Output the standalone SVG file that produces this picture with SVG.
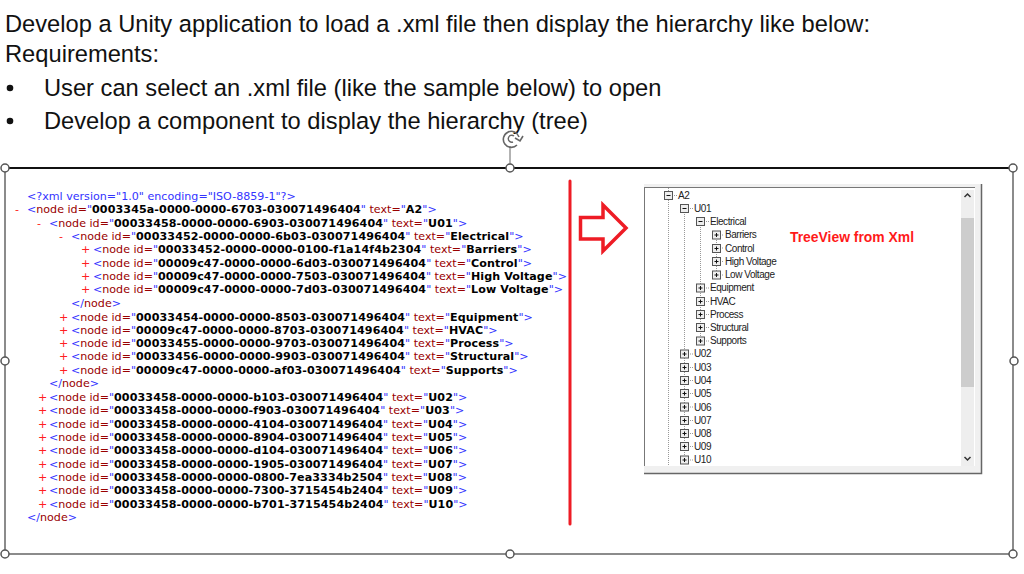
<svg xmlns="http://www.w3.org/2000/svg" width="1024" height="574" viewBox="0 0 1024 574">
<style>
.h{font:23.7px "Liberation Sans",Arial,sans-serif;fill:#111}
.x{font:11.1px "DejaVu Sans",Verdana,sans-serif;fill:#3333ff}
.x .r{fill:#990000}.x .k{fill:#000;font-weight:bold;letter-spacing:.1px}
.s{font:bold 13.9px "Liberation Sans",Arial,sans-serif;fill:#ff1a1a}
.t{font:10px "Liberation Sans",Arial,sans-serif;fill:#222;letter-spacing:-.45px}
.f{fill:none;stroke:#666;stroke-width:1.5}
.hd{fill:#fff;stroke:#555;stroke-width:1.5}
.dot{stroke:#999;stroke-width:1;stroke-dasharray:1 1;fill:none}
.box{fill:#eee;stroke:#555;stroke-width:1}
.pm{stroke:#111;stroke-width:1;fill:none}
</style>
<defs>
<g id="plus"><rect class="box" x="-3.5" y="-3.5" width="8" height="8"/><path class="pm" d="M-1.5 .5H2.5M.5 -1.5V2.5"/></g>
<g id="minus"><rect class="box" x="-3.5" y="-3.5" width="8" height="8"/><path class="pm" d="M-1.5 .5H2.5"/></g>
</defs>
<g id="heading">
<text class="h" x="5" y="32">Develop a Unity application to load a .xml file then display the hierarchy like below:</text>
<text class="h" x="5" y="62">Requirements:</text>
<circle cx="10" cy="88" r="3.3" fill="#111"/>
<text class="h" x="44" y="96">User can select an .xml file (like the sample below) to open</text>
<circle cx="10" cy="121" r="3.3" fill="#111"/>
<text class="h" x="44" y="129">Develop a component to display the hierarchy (tree)</text>
</g>
<g id="selection-frame">
<path class="f" d="M5 168V554H1013V168"/>
<path d="M5 168H1013" stroke="#111" stroke-width="2.2" fill="none"/>
<path d="M510 168V146" stroke="#666" stroke-width="1"/>
<path d="M517 145A8 8 0 1 1 519 137M515 138L520 141L523 136" fill="none" stroke="#666" stroke-width="1.6"/>
<path d="M513 142A3.500 3.500 0 1 1 514 136" fill="none" stroke="#666" stroke-width="1.4"/>
<circle class="hd" cx="5" cy="168" r="4"/><circle class="hd" cx="510" cy="168" r="4"/><circle class="hd" cx="1013" cy="168" r="4"/>
<circle class="hd" cx="5" cy="361" r="4"/><circle class="hd" cx="1014" cy="361" r="4"/>
<circle class="hd" cx="5" cy="554" r="4"/><circle class="hd" cx="510" cy="554" r="4"/><circle class="hd" cx="1013" cy="554" r="4"/>
</g>
<g id="xml-listing">
<text class="x" x="27" y="200">&lt;?xml version="1.0" encoding="ISO-8859-1"?&gt;</text>
<text class="x" x="15" y="213"><tspan fill="#ff2020">-</tspan></text>
<text class="x" x="27" y="213">&lt;<tspan class="r">node id=</tspan>"<tspan class="k">0003345a-0000-0000-6703-030071496404</tspan>" <tspan class="r">text=</tspan>"<tspan class="k">A2</tspan>"&gt;</text>
<text class="x" x="37" y="226.500"><tspan fill="#ff2020">-</tspan></text>
<text class="x" x="49" y="226.500">&lt;<tspan class="r">node id=</tspan>"<tspan class="k">00033458-0000-0000-6903-030071496404</tspan>" <tspan class="r">text=</tspan>"<tspan class="k">U01</tspan>"&gt;</text>
<text class="x" x="59" y="240"><tspan fill="#ff2020">-</tspan></text>
<text class="x" x="71" y="240">&lt;<tspan class="r">node id=</tspan>"<tspan class="k">00033452-0000-0000-6b03-030071496404</tspan>" <tspan class="r">text=</tspan>"<tspan class="k">Electrical</tspan>"&gt;</text>
<text class="x" x="81" y="253"><tspan fill="#ff2020">+</tspan></text>
<text class="x" x="93" y="253">&lt;<tspan class="r">node id=</tspan>"<tspan class="k">00033452-0000-0000-0100-f1a14f4b2304</tspan>" <tspan class="r">text=</tspan>"<tspan class="k">Barriers</tspan>"&gt;</text>
<text class="x" x="81" y="266.500"><tspan fill="#ff2020">+</tspan></text>
<text class="x" x="93" y="266.500">&lt;<tspan class="r">node id=</tspan>"<tspan class="k">00009c47-0000-0000-6d03-030071496404</tspan>" <tspan class="r">text=</tspan>"<tspan class="k">Control</tspan>"&gt;</text>
<text class="x" x="81" y="280"><tspan fill="#ff2020">+</tspan></text>
<text class="x" x="93" y="280">&lt;<tspan class="r">node id=</tspan>"<tspan class="k">00009c47-0000-0000-7503-030071496404</tspan>" <tspan class="r">text=</tspan>"<tspan class="k">High Voltage</tspan>"&gt;</text>
<text class="x" x="81" y="293"><tspan fill="#ff2020">+</tspan></text>
<text class="x" x="93" y="293">&lt;<tspan class="r">node id=</tspan>"<tspan class="k">00009c47-0000-0000-7d03-030071496404</tspan>" <tspan class="r">text=</tspan>"<tspan class="k">Low Voltage</tspan>"&gt;</text>
<text class="x" x="71" y="307">&lt;/<tspan class="r">node</tspan>&gt;</text>
<text class="x" x="59" y="320.500"><tspan fill="#ff2020">+</tspan></text>
<text class="x" x="71" y="320.500">&lt;<tspan class="r">node id=</tspan>"<tspan class="k">00033454-0000-0000-8503-030071496404</tspan>" <tspan class="r">text=</tspan>"<tspan class="k">Equipment</tspan>"&gt;</text>
<text class="x" x="59" y="333.500"><tspan fill="#ff2020">+</tspan></text>
<text class="x" x="71" y="333.500">&lt;<tspan class="r">node id=</tspan>"<tspan class="k">00009c47-0000-0000-8703-030071496404</tspan>" <tspan class="r">text=</tspan>"<tspan class="k">HVAC</tspan>"&gt;</text>
<text class="x" x="59" y="347"><tspan fill="#ff2020">+</tspan></text>
<text class="x" x="71" y="347">&lt;<tspan class="r">node id=</tspan>"<tspan class="k">00033455-0000-0000-9703-030071496404</tspan>" <tspan class="r">text=</tspan>"<tspan class="k">Process</tspan>"&gt;</text>
<text class="x" x="59" y="360"><tspan fill="#ff2020">+</tspan></text>
<text class="x" x="71" y="360">&lt;<tspan class="r">node id=</tspan>"<tspan class="k">00033456-0000-0000-9903-030071496404</tspan>" <tspan class="r">text=</tspan>"<tspan class="k">Structural</tspan>"&gt;</text>
<text class="x" x="59" y="374"><tspan fill="#ff2020">+</tspan></text>
<text class="x" x="71" y="374">&lt;<tspan class="r">node id=</tspan>"<tspan class="k">00009c47-0000-0000-af03-030071496404</tspan>" <tspan class="r">text=</tspan>"<tspan class="k">Supports</tspan>"&gt;</text>
<text class="x" x="49" y="387">&lt;/<tspan class="r">node</tspan>&gt;</text>
<text class="x" x="38" y="401"><tspan fill="#ff2020">+</tspan></text>
<text class="x" x="49" y="401">&lt;<tspan class="r">node id=</tspan>"<tspan class="k">00033458-0000-0000-b103-030071496404</tspan>" <tspan class="r">text=</tspan>"<tspan class="k">U02</tspan>"&gt;</text>
<text class="x" x="38" y="414"><tspan fill="#ff2020">+</tspan></text>
<text class="x" x="49" y="414">&lt;<tspan class="r">node id=</tspan>"<tspan class="k">00033458-0000-0000-f903-030071496404</tspan>" <tspan class="r">text=</tspan>"<tspan class="k">U03</tspan>"&gt;</text>
<text class="x" x="38" y="427.500"><tspan fill="#ff2020">+</tspan></text>
<text class="x" x="49" y="427.500">&lt;<tspan class="r">node id=</tspan>"<tspan class="k">00033458-0000-0000-4104-030071496404</tspan>" <tspan class="r">text=</tspan>"<tspan class="k">U04</tspan>"&gt;</text>
<text class="x" x="38" y="441"><tspan fill="#ff2020">+</tspan></text>
<text class="x" x="49" y="441">&lt;<tspan class="r">node id=</tspan>"<tspan class="k">00033458-0000-0000-8904-030071496404</tspan>" <tspan class="r">text=</tspan>"<tspan class="k">U05</tspan>"&gt;</text>
<text class="x" x="38" y="454"><tspan fill="#ff2020">+</tspan></text>
<text class="x" x="49" y="454">&lt;<tspan class="r">node id=</tspan>"<tspan class="k">00033458-0000-0000-d104-030071496404</tspan>" <tspan class="r">text=</tspan>"<tspan class="k">U06</tspan>"&gt;</text>
<text class="x" x="38" y="467.500"><tspan fill="#ff2020">+</tspan></text>
<text class="x" x="49" y="467.500">&lt;<tspan class="r">node id=</tspan>"<tspan class="k">00033458-0000-0000-1905-030071496404</tspan>" <tspan class="r">text=</tspan>"<tspan class="k">U07</tspan>"&gt;</text>
<text class="x" x="38" y="481"><tspan fill="#ff2020">+</tspan></text>
<text class="x" x="49" y="481">&lt;<tspan class="r">node id=</tspan>"<tspan class="k">00033458-0000-0000-0800-7ea3334b2504</tspan>" <tspan class="r">text=</tspan>"<tspan class="k">U08</tspan>"&gt;</text>
<text class="x" x="38" y="494"><tspan fill="#ff2020">+</tspan></text>
<text class="x" x="49" y="494">&lt;<tspan class="r">node id=</tspan>"<tspan class="k">00033458-0000-0000-7300-3715454b2404</tspan>" <tspan class="r">text=</tspan>"<tspan class="k">U09</tspan>"&gt;</text>
<text class="x" x="38" y="508"><tspan fill="#ff2020">+</tspan></text>
<text class="x" x="49" y="508">&lt;<tspan class="r">node id=</tspan>"<tspan class="k">00033458-0000-0000-b701-3715454b2404</tspan>" <tspan class="r">text=</tspan>"<tspan class="k">U10</tspan>"&gt;</text>
<text class="x" x="27" y="521">&lt;/<tspan class="r">node</tspan>&gt;</text>
</g>
<g id="divider"><path d="M570 181V524" stroke="#ee1c25" stroke-width="3" stroke-linecap="round"/></g>
<g id="arrow"><path d="M580.500 217.500H603V205L626 228L603 251V239H580.500Z" fill="#fff" stroke="#ee1c25" stroke-width="3.500"/></g>
<g id="treeview">
<rect x="644" y="184" width="337" height="290" fill="#f0f0f0"/>
<rect x="645" y="188" width="330" height="278" fill="#fff"/>
<path d="M644.500 188V466M644 187.500H975" stroke="#777" stroke-width="1" fill="none"/>
<path d="M644 473.500H981.500V184" stroke="#666" stroke-width="1.5" fill="none"/>
<rect x="961" y="190" width="13" height="276" fill="#eee"/>
<rect x="961" y="218" width="13" height="169" fill="#cdcdcd"/>
<path d="M964.500 197L967.500 194L970.500 197M964.500 457L967.500 460L970.500 457" fill="none" stroke="#333" stroke-width="1.5"/>
<path class="dot" d="M668.500 188V466M684.500 208V460M700.500 221V341M716.500 234V275"/>
<path class="dot" d="M672 195.500H677M688 208.500H693M704 221.500H709M720 235H724M720 248H724M720 261.500H724M720 275H724M704 288H709M704 301.500H709M704 314.500H709M704 327.500H709M704 341H709M688 354H693M688 367.500H693M688 380.500H693M688 393.500H693M688 407H693M688 420.500H693M688 433.500H693M688 446.500H693M688 460H693"/>
<use href="#minus" x="668" y="195"/><use href="#minus" x="684" y="208"/><use href="#minus" x="700" y="221"/>
<use href="#plus" x="716" y="234.500"/><use href="#plus" x="716" y="248"/><use href="#plus" x="716" y="261"/><use href="#plus" x="716" y="274.500"/>
<use href="#plus" x="700" y="287.500"/><use href="#plus" x="700" y="301"/><use href="#plus" x="700" y="314"/><use href="#plus" x="700" y="327"/><use href="#plus" x="700" y="340.500"/>
<use href="#plus" x="684" y="353.500"/><use href="#plus" x="684" y="367"/><use href="#plus" x="684" y="380"/><use href="#plus" x="684" y="393"/><use href="#plus" x="684" y="406.500"/><use href="#plus" x="684" y="420"/><use href="#plus" x="684" y="433"/><use href="#plus" x="684" y="446"/><use href="#plus" x="684" y="459.500"/>
<text class="t" x="678" y="199">A2</text><text class="t" x="694" y="212">U01</text><text class="t" x="710" y="225">Electrical</text>
<text class="t" x="725" y="238">Barriers</text><text class="t" x="725" y="251.500">Control</text><text class="t" x="725" y="265">High Voltage</text><text class="t" x="725" y="278">Low Voltage</text>
<text class="t" x="710" y="291">Equipment</text><text class="t" x="710" y="304.500">HVAC</text><text class="t" x="710" y="318">Process</text><text class="t" x="710" y="331">Structural</text><text class="t" x="710" y="344">Supports</text>
<text class="t" x="694" y="357">U02</text><text class="t" x="694" y="370.500">U03</text><text class="t" x="694" y="384">U04</text><text class="t" x="694" y="397">U05</text><text class="t" x="694" y="410.500">U06</text><text class="t" x="694" y="423.500">U07</text><text class="t" x="694" y="437">U08</text><text class="t" x="694" y="450">U09</text><text class="t" x="694" y="463">U10</text>
<text class="s" x="790" y="242">TreeView from Xml</text>
</g>
</svg>
